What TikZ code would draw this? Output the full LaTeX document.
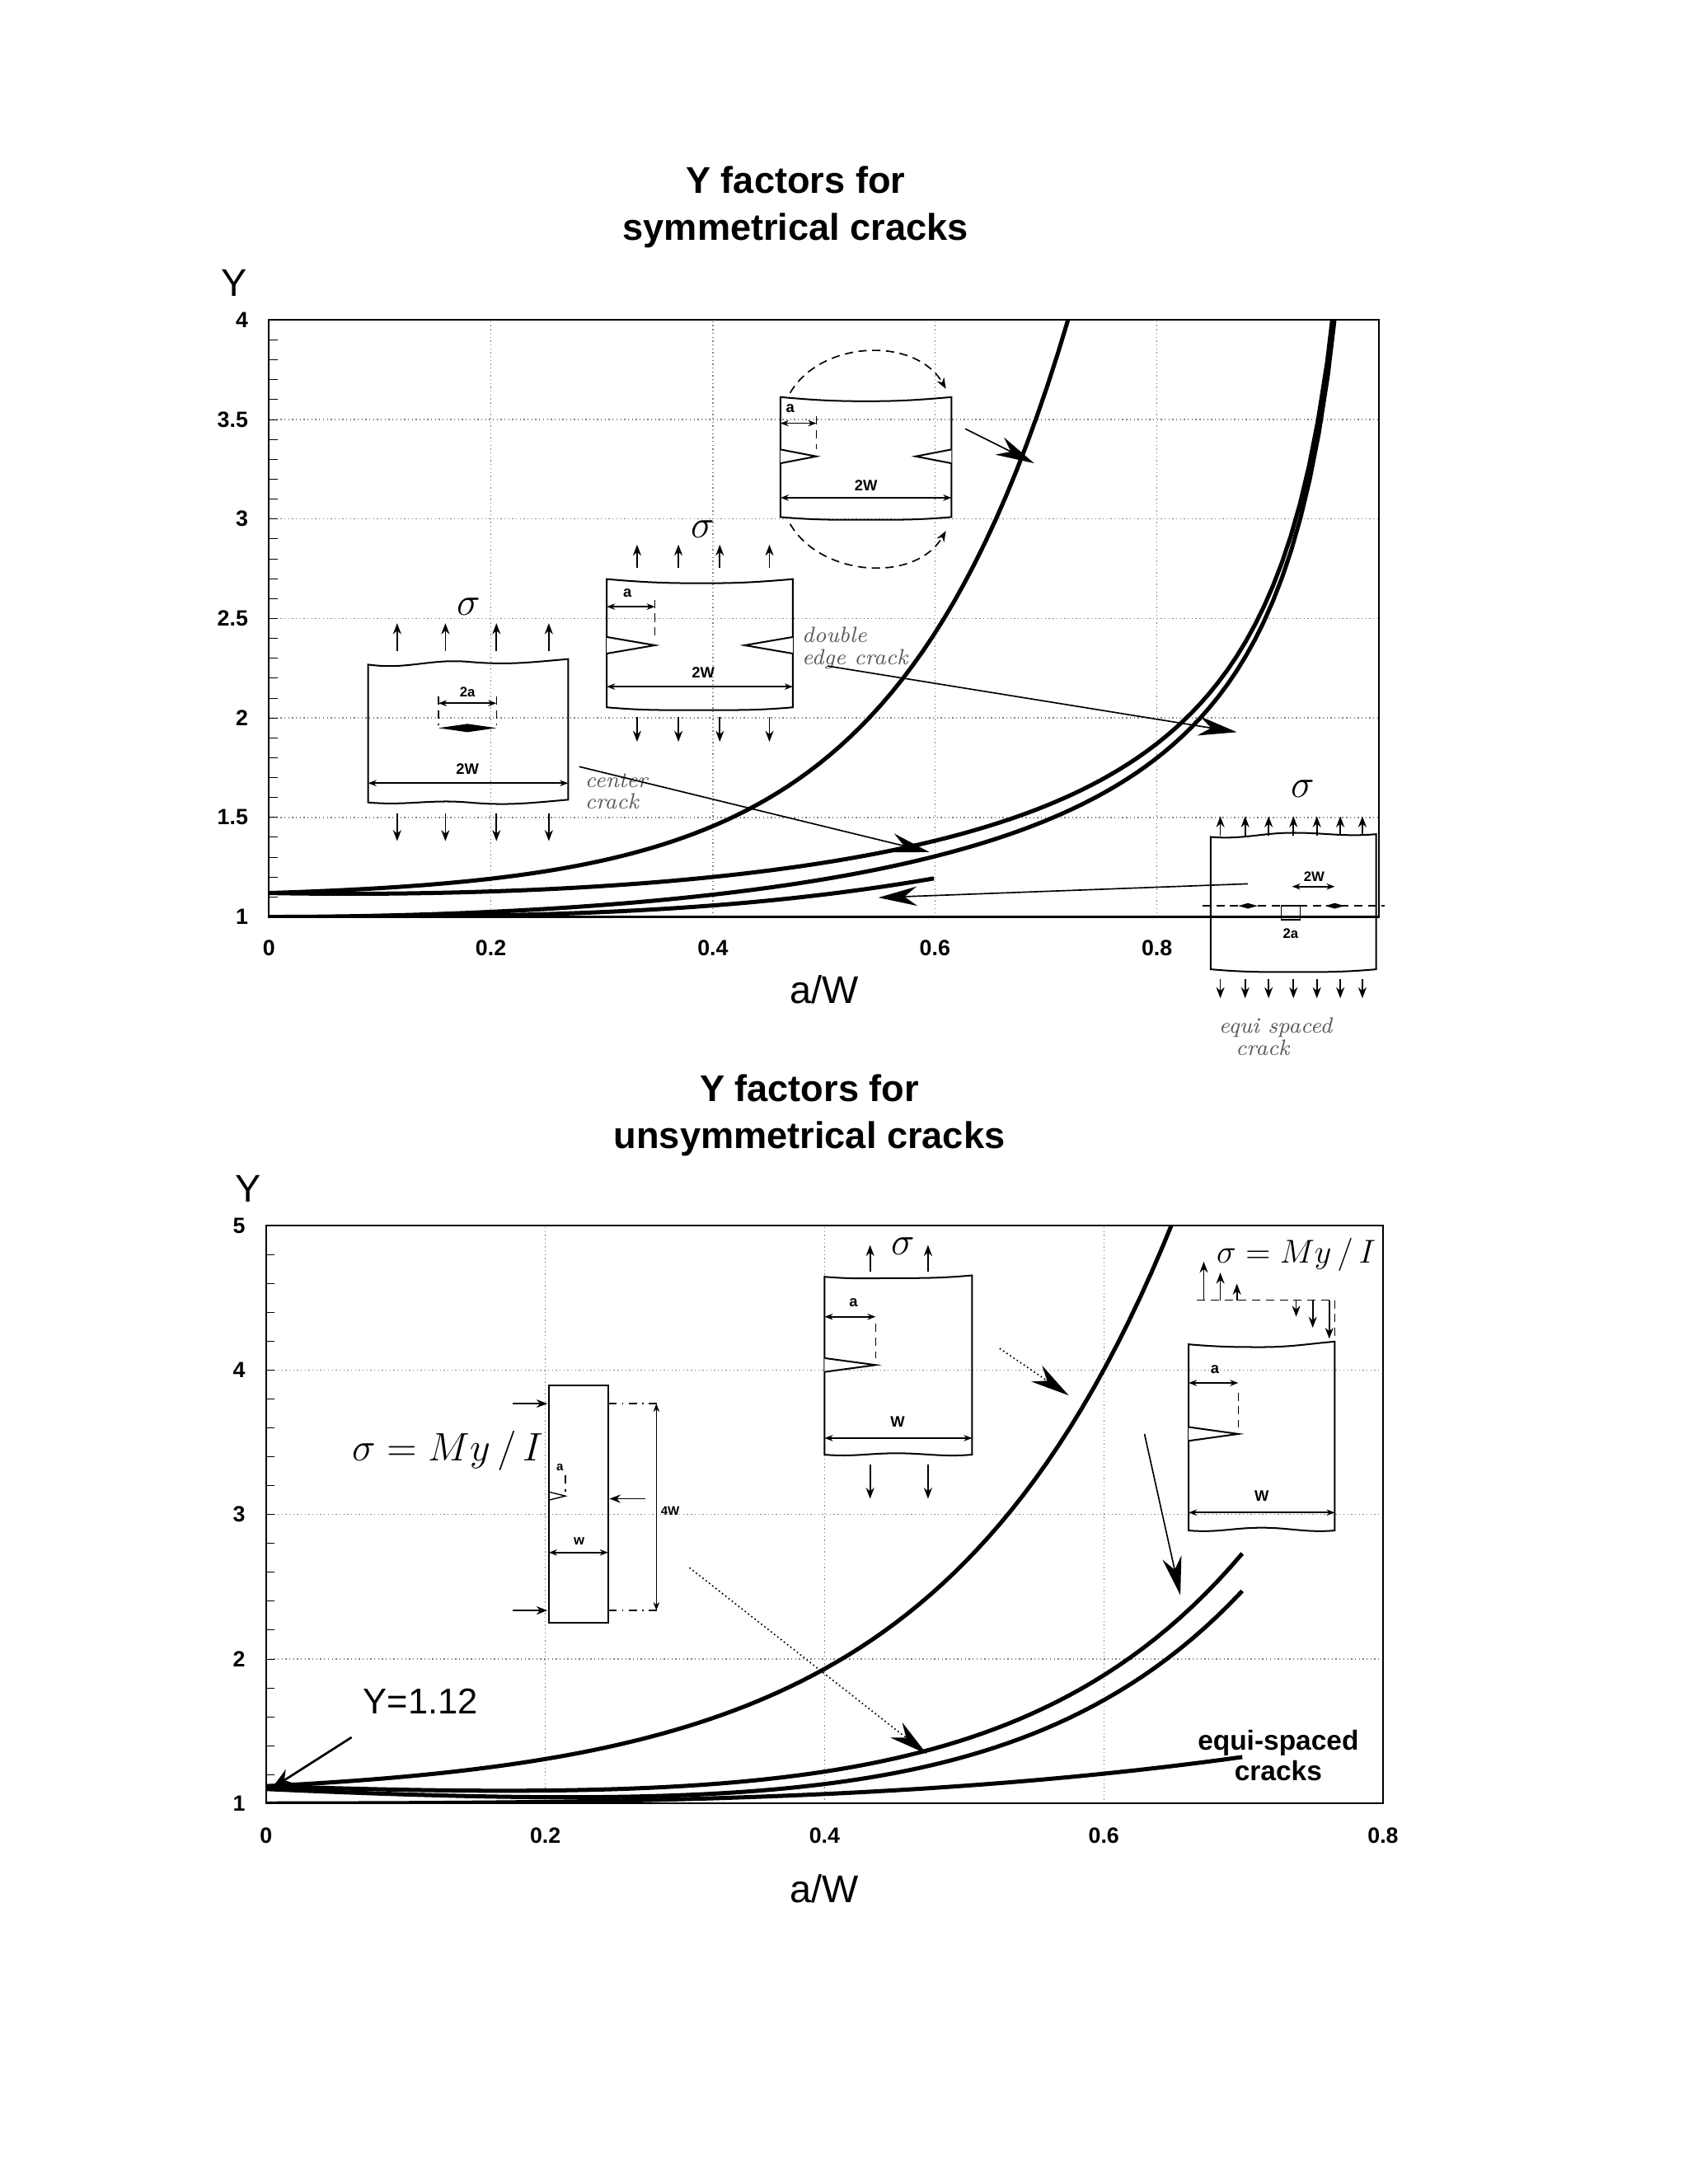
\documentclass[tikz,border=0pt]{standalone}
\usepackage{fontspec}
\setsansfont{Liberation Sans}
\usetikzlibrary{arrows.meta}
\begin{document}
\begin{tikzpicture}[x=0.5pt,y=-0.5pt,
 curve/.style={line width=1.5pt,samples=80},
 gridl/.style={densely dotted,line width=0.4pt,gray},
 spec/.style={line width=0.6pt},
 sarr/.style={-{Stealth[length=4pt]},line width=0.5pt},
 dim/.style={{Stealth[length=3pt]}-{Stealth[length=3pt]},line width=0.5pt},
 bigarr/.style={-{Stealth[length=14pt,width=7pt]},line width=0.5pt},
 tick/.style={font=\sffamily\bfseries\fontsize{8}{9}\selectfont},
 ttl/.style={font=\sffamily\bfseries\fontsize{13.5}{17}\selectfont,align=center},
 hand/.style={font=\itshape\fontsize{8}{8}\selectfont,align=left,gray!70!black},
 sig/.style={font=\fontsize{14}{14}\selectfont}]
\useasboundingbox (0,0) rectangle (1224,1584);
\fill[white] (0,0) rectangle (1224,1584);
% ---------- titles ----------
\node[ttl] (t1) at (577,150) {Y factors for\\symmetrical cracks};
\node[ttl] (t2) at (587,809) {Y factors for\\unsymmetrical cracks};
\node[font=\sffamily\fontsize{14}{14}\selectfont] (y1) at (170,205) {Y};
\node[font=\sffamily\fontsize{14}{14}\selectfont] (y2) at (180,862) {Y};
\node[font=\sffamily\fontsize{14}{14}\selectfont] (x1) at (598,718) {a/W};
\node[font=\sffamily\fontsize{14}{14}\selectfont] (x2) at (598,1370) {a/W};
% ---------- top plot ----------
\begin{scope}[shift={(195,809.3)},x={(402.5pt,0pt)},y={(0pt,72.15pt)}]
 \foreach \v in {0.2,0.4,0.6,0.8} \draw[gridl] (\v,1) -- (\v,4);
 \foreach \v in {1.5,2,2.5,3,3.5} \draw[gridl] (0,\v) -- (1,\v);
 \foreach \v in {1.1,1.2,...,3.95} \draw[line width=0.3pt] (0,\v) -- (0.008,\v);
 \draw[line width=0.7pt] (0,1) rectangle (1,4);
 \foreach \v in {0,0.2,0.4,0.6,0.8} \node[tick,below] at (\v,0.93) {\v};
 \foreach \v/\l in {1/1,1.5/1.5,2/2,2.5/2.5,3/3,3.5/3.5,4/4} \node[tick,left] at (-0.01,\v) {\l};
 \begin{scope}
 \clip (0,1) rectangle (1,4);
 \draw[curve] plot[domain=0:0.74] (\x,{1.12+0.027*(exp(6.5*\x)-1)});
 \draw[curve] plot[domain=0:0.97,samples=120] (\x,{(1.12-0.1*\x)*sqrt(1/cos(90*\x))});
 \draw[curve] plot[domain=0:0.98,samples=120] (\x,{sqrt(1/cos(90*\x))});
 \draw[curve] plot[domain=0:0.6] (\x,{1+0.9*\x*\x*\x});
 \end{scope}
\end{scope}
% ---------- bottom plot ----------
\begin{scope}[shift={(193,1412.75)},x={(506.25pt,0pt)},y={(0pt,52.375pt)}]
 \foreach \v in {0.2,0.4,0.6} \draw[gridl] (\v,1) -- (\v,5);
 \foreach \v in {2,3,4} \draw[gridl] (0,\v) -- (0.8,\v);
 \foreach \v in {1.2,1.4,...,4.9} \draw[line width=0.3pt] (0,\v) -- (0.006,\v);
 \draw[line width=0.7pt] (0,1) rectangle (0.8,5);
 \foreach \v in {0,0.2,0.4,0.6,0.8} \node[tick,below] at (\v,0.9) {\v};
 \foreach \v in {1,2,3,4,5} \node[tick,left] at (-0.008,\v) {\v};
 \begin{scope}
 \clip (0,1) rectangle (0.8,5);
 \draw[curve] plot[domain=0:0.66] (\x,{1.12+0.081*(exp(6*\x)-1)});
 \draw[curve] plot[domain=0:0.7] (\x,{1.12-0.5*\x+0.030*(exp(6*\x)-1)});
 \draw[curve] plot[domain=0:0.7] (\x,{1.1-0.6*\x+0.0274*(exp(6*\x)-1)});
 \draw[curve] plot[domain=0:0.7] (\x,{1+0.02*\x+0.9*\x*\x*\x});
 \end{scope}
\end{scope}
% ================= top insets =================
% center crack
\draw[spec] (267,482) to[out=-8,in=175] (340,480) to[out=-5,in=185] (412,478) -- (412,580) to[out=185,in=-5] (340,582) to[out=175,in=-5] (267,582) -- cycle;
\foreach \x in {288,323,360,398} {\draw[sarr] (\x,472) -- (\x,452); \draw[sarr] (\x,590) -- (\x,610);}
\node[sig] (sg1) at (340,440) {$\sigma$};
\fill (318,528) -- (339,525) -- (360,528) -- (339,531) -- cycle;
\draw[dim] (318,510) -- (360,510); \draw[line width=0.4pt,densely dashed] (318,505) -- (318,526) (360,505) -- (360,526);
\node[font=\sffamily\bfseries\fontsize{5}{5}\selectfont] at (339,502) {2a};
\draw[dim] (267,568) -- (412,568);
\node[font=\sffamily\bfseries\fontsize{5.5}{5}\selectfont] at (339,558) {2W};
\node[hand] (hc) at (447,574) {center\\crack};
\coordinate (c1s) at (420,556); \coordinate (c1e) at (674,618);
\draw[bigarr] (c1s) -- (c1e);
% double edge
\draw[spec] (440,420) to[out=-5,in=180] (510,423) to[out=0,in=185] (575,420) -- (575,513) to[out=185,in=0] (510,515) to[out=180,in=-5] (440,513) -- cycle;
\fill[white] (440,462) -- (475,468) -- (440,474) -- cycle; \draw[spec] (440,462) -- (475,468) -- (440,474);
\fill[white] (575,462) -- (540,468) -- (575,474) -- cycle; \draw[spec] (575,462) -- (540,468) -- (575,474);
\foreach \x in {462,492,522,558} {\draw[sarr] (\x,412) -- (\x,395); \draw[sarr] (\x,520) -- (\x,538);}
\node[sig] (sg2) at (510,384) {$\sigma$};
\draw[dim] (440,440) -- (475,440); \draw[line width=0.4pt,densely dashed] (475,435) -- (475,462);
\node[font=\sffamily\bfseries\fontsize{5.5}{5}\selectfont] at (455,430) {a};
\draw[dim] (440,498) -- (575,498);
\node[font=\sffamily\bfseries\fontsize{5.5}{5}\selectfont] at (510,488) {2W};
\node[hand] (hd) at (620,470) {double\\edge crack};
\coordinate (c2s) at (600,483); \coordinate (c2e) at (897,531);
\draw[bigarr] (c2s) -- (c2e);
% double-sided top specimen
\draw[spec] (566,288) to[out=-5,in=180] (628,291) to[out=0,in=185] (690,288) -- (690,375) to[out=185,in=0] (628,377) to[out=180,in=-5] (566,375) -- cycle;
\fill[white] (566,326) -- (592,331) -- (566,336) -- cycle; \draw[spec] (566,326) -- (592,331) -- (566,336);
\fill[white] (690,326) -- (664,331) -- (690,336) -- cycle; \draw[spec] (690,326) -- (664,331) -- (690,336);
\draw[dim] (566,307) -- (592,307); \draw[line width=0.4pt,densely dashed] (592,302) -- (592,326);
\node[font=\sffamily\bfseries\fontsize{5.5}{5}\selectfont] at (573,296) {a};
\draw[dim] (566,361) -- (690,361);
\node[font=\sffamily\bfseries\fontsize{5.5}{5}\selectfont] at (628,352) {2W};
\draw[densely dashed,line width=0.5pt,-{Stealth[length=4pt]}] (573,285) to[out=60,in=120] (686,282);
\draw[densely dashed,line width=0.5pt,-{Stealth[length=4pt]}] (573,380) to[out=-60,in=-120] (686,385);
\coordinate (c3s) at (700,311); \coordinate (c3e) at (750,336);
\draw[bigarr] (c3s) -- (c3e);
% equi-spaced
\draw[spec] (878,607) to[out=-5,in=180] (938,604) to[out=0,in=185] (998,605) -- (998,703) to[out=185,in=0] (938,705) to[out=180,in=-5] (878,703) -- cycle;
\foreach \x in {885,903,920,938,955,972,988} {\draw[sarr] (\x,606) -- (\x,592); \draw[sarr] (\x,710) -- (\x,724);}
\node[sig] (sg4) at (945,572) {$\sigma$};
\draw[densely dashed,line width=0.5pt] (872,657) -- (1004,657);
\foreach \x in {905,968} \fill (\x-7,657) -- (\x,655) -- (\x+7,657) -- (\x,659) -- cycle;
\draw[line width=0.4pt] (929,657) rectangle (943,667);
\draw[dim] (937,643) -- (968,643);
\node[font=\sffamily\bfseries\fontsize{5}{5}\selectfont] at (953,636) {2W};
\node[font=\sffamily\bfseries\fontsize{5}{5}\selectfont] at (936,677) {2a};
\node[hand] (he) at (925,752) {equi spaced\\ \ \ crack};
\coordinate (c4s) at (905,641); \coordinate (c4e) at (637,651);
\draw[bigarr] (c4s) -- (c4e);
% ================= bottom insets =================
\node[sig] (m1) at (325,1052) {$\sigma = My\,/\,I$};
\draw[spec] (398,1005) rectangle (441,1177);
\draw[line width=0.4pt,dash dot] (441,1018) -- (480,1018) (441,1168) -- (480,1168);
\draw[dim] (476,1018) -- (476,1168);
\node[font=\sffamily\bfseries\fontsize{4.5}{5}\selectfont] at (486,1096) {4W};
\draw[sarr] (372,1018) -- (397,1018); \draw[sarr] (372,1168) -- (397,1168);
\draw[sarr] (468,1087) -- (442,1087);
\draw[line width=0.4pt] (398,1082) -- (410,1085) -- (398,1088);
\draw[line width=0.4pt,densely dashed] (410,1070) -- (410,1082);
\node[font=\sffamily\bfseries\fontsize{4.5}{5}\selectfont] at (406,1064) {a};
\draw[dim] (398,1126) -- (441,1126);
\node[font=\sffamily\bfseries\fontsize{5}{5}\selectfont] at (420,1118) {w};
\coordinate (c5s) at (500,1137); \coordinate (c5e) at (672,1272);
\draw[bigarr,densely dotted] (c5s) -- (c5e);
% single edge tension
\draw[spec] (598,926) to[out=-5,in=180] (650,927) to[out=0,in=185] (705,925) -- (705,1055) to[out=185,in=0] (650,1054) to[out=180,in=-5] (598,1055) -- cycle;
\fill[white] (598,985) -- (635,990) -- (598,995) -- cycle; \draw[spec] (598,985) -- (635,990) -- (598,995);
\draw[line width=0.4pt,densely dashed] (635,960) -- (635,985);
\draw[dim] (598,955) -- (635,955);
\node[font=\sffamily\bfseries\fontsize{5.5}{5}\selectfont] at (619,945) {a};
\draw[dim] (598,1043) -- (705,1043);
\node[font=\sffamily\bfseries\fontsize{5.5}{5}\selectfont] at (651,1031) {W};
\foreach \x in {631,673} {\draw[sarr] (\x,922) -- (\x,903); \draw[sarr] (\x,1062) -- (\x,1087);}
\node[sig] (sg5) at (655,904) {$\sigma$};
\coordinate (c6s) at (725,978); \coordinate (c6e) at (775,1012);
\draw[bigarr,densely dotted] (c6s) -- (c6e);
% single edge bending
\node[sig,font=\fontsize{13}{13}\selectfont] (m2) at (940,910) {$\sigma = My\,/\,I$};
\draw[spec] (862,975) to[out=-5,in=180] (915,977) to[out=0,in=185] (968,973) -- (968,1110) to[out=185,in=0] (915,1108) to[out=180,in=-5] (862,1110) -- cycle;
\draw[line width=0.4pt,densely dashed] (868,943) -- (968,943) (968,943) -- (968,973);
\foreach \x/\l in {873/-28,885/-20,897/-12} \draw[sarr] (\x,943) -- (\x,943+\l);
\foreach \x/\l in {940/12,952/20,964/28} \draw[sarr] (\x,943) -- (\x,943+\l);
\fill[white] (862,1035) -- (898,1040) -- (862,1045) -- cycle; \draw[spec] (862,1035) -- (898,1040) -- (862,1045);
\draw[line width=0.4pt,densely dashed] (898,1010) -- (898,1035);
\draw[dim] (862,1003) -- (898,1003);
\node[font=\sffamily\bfseries\fontsize{5.5}{5}\selectfont] at (881,993) {a};
\draw[dim] (862,1097) -- (968,1097);
\node[font=\sffamily\bfseries\fontsize{5.5}{5}\selectfont] at (915,1085) {W};
\coordinate (c7s) at (830,1040); \coordinate (c7e) at (856,1157);
\draw[bigarr] (c7s) -- (c7e);
% labels
\node[font=\sffamily\fontsize{13}{13}\selectfont] (y112) at (305,1234) {Y=1.12};
\coordinate (c8s) at (255,1260); \coordinate (c8e) at (197,1297);
\draw[-{Stealth[length=8pt]},line width=0.8pt] (c8s) -- (c8e);
\node[font=\sffamily\bfseries\fontsize{10}{11}\selectfont,align=center] (eq) at (927,1273) {equi-spaced\\cracks};
\end{tikzpicture}
\end{document}
